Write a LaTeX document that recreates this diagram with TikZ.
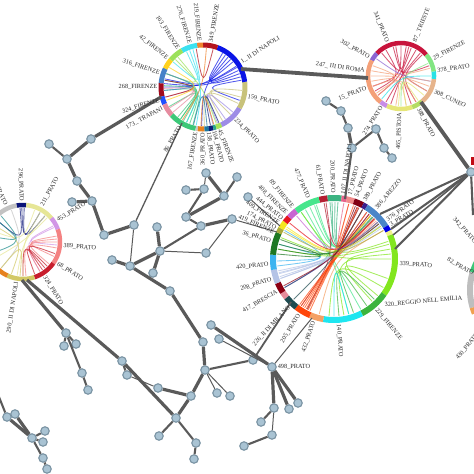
\documentclass[tikz,border=0pt]{standalone}
\usepackage{fontspec}
\setmainfont{Liberation Serif}
\definecolor{edgec}{HTML}{5A5A5A}
\definecolor{nfill}{HTML}{A9C3D3}
\definecolor{ndraw}{HTML}{7A93A3}
\definecolor{labc}{HTML}{2A2A2A}
\definecolor{tlblue}{HTML}{0A14E6}
\definecolor{tlkhaki}{HTML}{C8C27A}
\definecolor{tlpurple}{HTML}{9D8CE6}
\definecolor{tllgreen}{HTML}{A5E15A}
\definecolor{tlteal}{HTML}{2AA58C}
\definecolor{tlnavy}{HTML}{0B1E78}
\definecolor{tltealb}{HTML}{1E78A0}
\definecolor{tlorange}{HTML}{E8821E}
\definecolor{tlgrey}{HTML}{C8C8C8}
\definecolor{tlgreen}{HTML}{3CC878}
\definecolor{tlpink}{HTML}{E68CA0}
\definecolor{tlbluex}{HTML}{1E50FF}
\definecolor{tldred}{HTML}{A00A1E}
\definecolor{tlsteel}{HTML}{4682C8}
\definecolor{tldredb}{HTML}{B4141E}
\definecolor{tlorangeb}{HTML}{F0822D}
\definecolor{tlcyan}{HTML}{3CE1F0}
\definecolor{tllgreenb}{HTML}{9BE15A}
\definecolor{tlyellow}{HTML}{FFD21E}
\definecolor{trred}{HTML}{C8143C}
\definecolor{trpurple}{HTML}{8C64D2}
\definecolor{trsalmon}{HTML}{F4A078}
\definecolor{trlilac}{HTML}{C88CE6}
\definecolor{tryellow}{HTML}{E6E678}
\definecolor{trlgreen}{HTML}{B4DC64}
\definecolor{trtan}{HTML}{E6B48C}
\definecolor{trcyan}{HTML}{28E1E6}
\definecolor{trgreen}{HTML}{82E682}
\definecolor{ccdred}{HTML}{B41E32}
\definecolor{ccsea}{HTML}{3CB482}
\definecolor{ccpink}{HTML}{E6648C}
\definecolor{ccsalmon}{HTML}{F08C8C}
\definecolor{ccmaroon}{HTML}{820014}
\definecolor{ccindigo}{HTML}{3C1E8C}
\definecolor{ccsteel}{HTML}{4A86C8}
\definecolor{ccblue}{HTML}{0000E6}
\definecolor{cclyellow}{HTML}{F0F08C}
\definecolor{ccbgreen}{HTML}{82E61E}
\definecolor{ccgreen}{HTML}{3CB43C}
\definecolor{cccyan}{HTML}{1EE6F0}
\definecolor{ccsandy}{HTML}{F4A064}
\definecolor{ccorange}{HTML}{FF460A}
\definecolor{ccslate}{HTML}{1E4B50}
\definecolor{ccpinkb}{HTML}{E68C9B}
\definecolor{ccdredb}{HTML}{8C0014}
\definecolor{cclblue}{HTML}{B4C3E6}
\definecolor{ccsky}{HTML}{3CB4F0}
\definecolor{ccdkgreen}{HTML}{1E7823}
\definecolor{ccolive}{HTML}{AAAA3C}
\definecolor{ccyellow}{HTML}{F5E61E}
\definecolor{ccred}{HTML}{E6141E}
\definecolor{ccviolet}{HTML}{C864D2}
\definecolor{cclgreen}{HTML}{46E68C}
\definecolor{lcnavy}{HTML}{0A1478}
\definecolor{lcgrey}{HTML}{C3C3C3}
\definecolor{lckhaki}{HTML}{E6E696}
\definecolor{lclilac}{HTML}{D296E6}
\definecolor{lccoral}{HTML}{F48282}
\definecolor{lccrimson}{HTML}{C81E2D}
\definecolor{lcolive}{HTML}{D2C864}
\definecolor{lcorange}{HTML}{E6821E}
\definecolor{lcpurple}{HTML}{7864C8}
\definecolor{lcteal}{HTML}{1E8C8C}
\definecolor{rcgreen}{HTML}{3CC878}
\definecolor{rcgrey}{HTML}{BEBEBE}
\definecolor{rcorange}{HTML}{F0A050}
\definecolor{hubred}{HTML}{C00A14}
\tikzset{
  tn/.style={circle, minimum size=8.5pt, inner sep=0pt, fill=nfill, draw=ndraw, line width=1.1pt},
  ea/.style={draw=edgec, line width=3.2pt},
  eb/.style={draw=edgec, line width=2.1pt},
  ec/.style={draw=edgec, line width=1pt},
  lab/.style={font=\fontsize{6.3}{7}\selectfont, inner sep=0.6pt, text=labc},
  chord/.style={line width=0.85pt, opacity=0.7},
}
\begin{document}
\begin{tikzpicture}[x=1pt,y=-1pt]
\useasboundingbox (0,0) rectangle (474,474);
\clip (0,0) rectangle (474,474);

% ---------- chords ----------
% top-left circle (203,87) r 42
\foreach \a/\b/\c in {15/45/tlblue, 25/55/tlblue, 20/175/tlblue, 30/168/tlblue, 40/180/tlblue, 60/32/tlblue, 50/-92/tlblue, 10/-20/tlblue,
  -5/-60/tlkhaki, -15/-45/tlkhaki, -25/-88/tlkhaki, -40/-75/tlpurple, -55/-68/tlpurple,
  -105/-125/tlgreen, -110/170/tlgreen, -115/160/tlgreen, -120/178/tlgreen, -130/-150/tlgreen, -125/185/tlgreen,
  -140/-165/tlpink, -148/182/tlpink, 130/160/tllgreenb, 135/-70/tllgreenb,
  105/-115/tlcyan, 110/140/tlcyan, 115/-100/tlcyan, 85/-122/tlorangeb, 75/100/tldredb,
  170/195/tldred, 160/185/tlsteel, 150/200/tlyellow, -79/-66/tlnavy, -93/-74/tlorange, -84/-104/tltealb}
  \draw[chord, color=\c] ({203+39*cos(\a)},{87-39*sin(\a)}) .. controls (203,87) .. ({203+39*cos(\b)},{87-39*sin(\b)});
% top-right circle (401,76) r 33
\foreach \a/\b/\c in {60/-110/trred, 70/-140/trred, 80/-70/trred, 100/-30/trred, 120/-150/trred, 50/-120/trred, 90/200/trred, 105/75/trred, 130/20/trred, 45/-60/trred,
  180/-20/trsalmon, 200/-60/trsalmon, 170/15/trsalmon, 190/-100/trsalmon, 215/-80/trsalmon, 160/220/trsalmon,
  145/-10/trpurple, -80/-40/tryellow, -95/-55/tryellow, 25/-90/trgreen, 0/-130/trcyan, -30/-10/trtan}
  \draw[chord, color=\c] ({401+30*cos(\a)},{76-30*sin(\a)}) .. controls (401,76) .. ({401+30*cos(\b)},{76-30*sin(\b)});
% centre circle (334,259) r 61
\foreach \a/\b/\c in {110/45/cclgreen, 115/50/cclgreen, 120/-62/cclgreen, 125/-75/cclgreen, 108/38/cclgreen,
  86/35/ccsea, 89/48/ccsea, 92/-150/ccsea, 94/40/ccsea, 100/55/ccdred, 98/-125/ccdred,
  80/52/ccpink, 75/42/ccsalmon, 66/38/ccmaroon, 64/-118/ccmaroon, 68/45/ccmaroon, 60/-150/ccindigo,
  -160/40/cclblue, -162/45/cclblue, -165/50/cclblue, -168/36/cclblue, -160/33/cclblue, -166/55/cclblue,
  182/165/ccsky, 187/150/ccsky,
  -115/55/ccorange, -117/60/ccorange, -119/65/ccorange, -121/70/ccorange, -123/75/ccorange, -125/50/ccorange, -127/44/ccorange,
  -105/30/ccsandy, 10/-40/ccbgreen, 5/-80/ccbgreen, 15/170/ccbgreen, 0/158/ccbgreen, 18/125/ccbgreen, -20/-48/ccbgreen, -30/-95/ccbgreen,
  -45/-85/ccgreen, -55/-70/ccgreen, -75/-90/cccyan, 165/40/ccdkgreen, 170/47/ccdkgreen, 160/175/ccdkgreen,
  146/50/ccyellow, 148/35/ccyellow, 141/45/ccred, 131/40/ccviolet, 152/30/ccolive, -135/60/ccslate, -152/52/ccdredb}
  \draw[chord, color=\c] ({334+57*cos(\a)},{259-57*sin(\a)}) .. controls (334,259) .. ({334+57*cos(\b)},{259-57*sin(\b)});
% left circle (23,242) r 37
\foreach \a/\b/\c in {92/50/lcnavy, 95/140/lcnavy, 88/60/lcnavy, 110/-130/lcgrey, 60/-90/lckhaki, 45/-150/lckhaki, 50/-100/lckhaki, 70/160/lckhaki,
  28/-5/lclilac, 25/-60/lclilac, 5/-40/lccoral, 0/-60/lccoral, -10/-85/lccoral, 10/-25/lccoral,
  -50/-90/lccrimson, -55/-20/lccrimson, -45/-70/lccrimson, -95/-130/lcolive, -110/150/lcolive, 140/170/lcteal, 130/200/lcteal}
  \draw[chord, color=\c] ({23+34*cos(\a)},{242-34*sin(\a)}) .. controls (23,242) .. ({23+34*cos(\b)},{242-34*sin(\b)});

% ---------- rings ----------
\foreach \a/\b/\c in {154/175/tlsteel, 175/193/tldred, 193/204/tlbluex, 204/222/tlpink, 222/260/tlgreen, 260/263/tlgrey, 263/272/tlorange, 272/278/tltealb, 278/284/tlnavy, 284/288/tlteal, 288/296/tllgreen, 296/330/tlpurple, 330/367/tlkhaki, 7/70/tlblue, 70/90/tldredb, 90/98/tlorangeb, 98/120/tlcyan, 120/140/tllgreenb, 140/154/tlyellow}
  \draw[color=\c, line width=5pt] plot[domain=\a:\b, samples=14, variable=\t] ({203+42*cos(\t)},{87-42*sin(\t)});
\foreach \a/\b/\c in {40/137/trred, 137/152/trpurple, 152/232/trsalmon, 232/245/trlilac, 245/290/tryellow, 290/310/trlgreen, 310/355/trtan, 355/368/trcyan, 8/40/trgreen}
  \draw[color=\c, line width=4.5pt] plot[domain=\a:\b, samples=14, variable=\t] ({401+33*cos(\t)},{76-33*sin(\t)});
\foreach \a/\b/\c in {96/104/ccdred, 83/96/ccsea, 78/83/ccpink, 71/78/ccsalmon, 62/71/ccmaroon, 58/62/ccindigo, 32/58/ccsteel, 27/32/ccblue, 23/27/cclyellow, -35/23/ccbgreen, -63/-35/ccgreen, -100/-63/cccyan, -113/-100/ccsandy, -128/-113/ccorange, -141/-128/ccslate, -147/-141/ccpinkb, -157/-147/ccdredb, -170/-157/cclblue, 176/190/ccsky, 155/176/ccdkgreen, 150/155/ccolive, 143/150/ccyellow, 137/143/ccred, 128/137/ccviolet, 104/128/cclgreen}
  \draw[color=\c, line width=6pt] plot[domain=\a:\b, samples=14, variable=\t] ({334+61*cos(\t)},{259-61*sin(\t)});
\foreach \a/\b/\c in {85/100/lcnavy, 100/150/lcgrey, 150/175/lcteal, 40/85/lckhaki, 20/40/lclilac, -35/20/lccoral, -72/-35/lccrimson, -115/-72/lcolive, -135/-115/lcorange, -150/-135/lcpurple}
  \draw[color=\c, line width=4.5pt] plot[domain=\a:\b, samples=14, variable=\t] ({23+37*cos(\t)},{242-37*sin(\t)});
\foreach \a/\b/\c in {150/163/rcgreen, 163/197/rcgrey, 197/203/rcorange}
  \draw[color=\c, line width=6pt] plot[domain=\a:\b, samples=14, variable=\t] ({530+60*cos(\t)},{290-60*sin(\t)});
\fill[hubred] (470.5,157) rectangle (475,165);

% ---------- nodes ----------
\foreach \n/\u/\v in {a1/67/159, a2/77/181, a3/72/202, a4/92/201, a5/104/235, a6/134/225, a7/112/260, a8/130/266, a9/157/227, a10/160/251,
  a11/153/273, a12/170/291, a13/203/342, a14/205/370, a15/191/396, a16/217/393, a17/230/396, a18/253/360, a19/211/325, a20/219/339,
  a21/272/367, a22/158/388, a23/176/418, a24/159/436, a25/196/443, a26/194/459, a27/122/361, a28/127/375, a29/66/333, a30/64/346,
  a31/76/344, a32/82/373, a33/88/390, a34/7/417, a35/15/414, a36/32/438, a37/45/431, a38/43/442, a39/43/458, a40/47/469,
  a41/274/408, a42/289/409, a43/298/403, a44/261/422, a45/272/435, a46/244/446,
  b1/206/173, b2/237/177, b3/186/190, b4/204/189, b5/224/196, b6/186/217, b7/201/226, b8/232/219, b9/248/197, b10/206/253,
  c1/326/101, c2/341/111, c3/348/128, c4/352/148, c5/376/129, c6/384/148, c7/392/158, d1/49/144, d2/91/139, hub/471/172}
  \node[tn] (\n) at (\u,\v) {};

% ring end points
\coordinate (tlA) at (161,97);
\coordinate (tlB) at (182,123);
\coordinate (tlR) at (241,69);
\coordinate (trL) at (368,78);
\coordinate (trB) at (421,102);
\coordinate (cT) at (345,199);
\coordinate (cL1) at (277,232);
\coordinate (cL2) at (280,226);
\coordinate (cB1) at (291,302);
\coordinate (cB2) at (312,318);
\coordinate (cR1) at (380,214);
\coordinate (cR2) at (391,229);
\coordinate (cR3) at (393,235);
\coordinate (cR4) at (395,249);
\coordinate (hubD) at (473,215);
\coordinate (lft) at (-3,392);
\coordinate (lcB1) at (22,280);
\coordinate (lcB2) at (27,280);

% ---------- edges ----------
\foreach \s/\e in {d2/a1, a1/a2, a2/a4, a3/a4, a4/a5, a5/a6, a7/a8, a8/a10, a9/a10, a10/a11, a8/a12, a12/a13, a13/a14, a14/a15,
  a15/a22, a15/a23, a27/a23, a34/a36, a35/a36, a21/a41, a21/a42, a21/a43, a19/a21, b1/b5, b5/b6, b7/b8, c3/c4}
  \draw[ea] (\s) -- (\e);
\foreach \s/\e in {d1/a1, b2/b5, b6/b7, b7/a10, b3/b4, b4/b6, a14/a18, a23/a24, a23/a25, a25/a26, a29/a30, a29/a31, a29/a32, a32/a33,
  a36/a37, a36/a38, a36/a39, a39/a40, a41/a44, a45/a46, c1/c2, c2/c3, c4/c5, c5/c6, c6/c7, a27/a28}
  \draw[eb] (\s) -- (\e);
\foreach \s/\e in {b1/b4, b8/b10, a10/b10, a6/a8, a14/a16, a14/a17, a28/a22, a20/a21, a41/a45}
  \draw[ec] (\s) -- (\e);
\draw[ea] (tlA) -- (d2);
\draw[ec, line width=1.3pt] (tlB) -- (a6);
\draw[ea, line width=3.8pt] (tlR) -- (trL);
\draw[ea, line width=3.8pt] (trB) -- (hub);
\draw[eb] (hub) -- (cR1);
\draw[eb] (hub) -- (cR2);
\draw[ec, line width=1.5pt] (hub) -- (cR3);
\draw[eb] (hub) -- (cR4);
\draw[eb] (hub) -- (hubD);
\draw[eb] (c4) -- (cT);
\draw[ec] (b8) -- (cL1);
\draw[ec] (b9) -- (cL2);
\draw[eb, line width=1.8pt] (a18) -- (cB1);
\draw[ec] (a21) -- (cB2);
\draw[eb] (lft) -- (a34);
\draw[ea] (lcB1) -- (a29);
\draw[ea] (lcB2) -- (a27);

% ---------- labels ----------
\foreach \a/\t [count=\i] in {33/1\_ II DI NAPOLI, -12/159\_PRATO, -45/234\_PRATO, -69/45\_FIRENZE, -76/104\_PRATO, -83/138\_PRATO, 80/349\_FIRENZE}
  \node[lab, anchor=west, rotate=\a] (tlr\i) at ({203+45*cos(\a)},{87-45*sin(\a)}) {\t};
\foreach \a/\t [count=\i] in {-90/360\_PRATO, -99/167\_FIRENZE, -120/86\_PRATO, -152/173\_ TRAPANI, -163/324\_FIRENZE, 180/268\_FIRENZE, 162/316\_FIRENZE, 141/42\_FIRENZE, 123/163\_FIRENZE, 107/276\_FIRENZE, 95/219\_FIRENZE}
  \node[lab, anchor=east, rotate=\a-180] (tll\i) at ({203+45*cos(\a)},{87-45*sin(\a)}) {\t};
\foreach \a/\t [count=\i] in {68/87\_ TRIESTE, 28/29\_FIRENZE, 8/378\_PRATO, -25/308\_CUNEO, -62/388\_PRATO}
  \node[lab, anchor=west, rotate=\a] (trr\i) at ({401+36*cos(\a)},{76-36*sin(\a)}) {\t};
\foreach \a/\t [count=\i] in {-92/465\_PISTOIA, -122/274\_PRATO, -160/15\_PRATO, 172/247\_ III DI ROMA, 150/302\_PRATO, 112/341\_PRATO}
  \node[lab, anchor=east, rotate=\a-180] (trl\i) at ({401+36*cos(\a)},{76-36*sin(\a)}) {\t};
\foreach \a/\t [count=\i] in {82/107\_II DI NAPOLI, 76/17\_PRATO, 70/54\_PRATO, 62/389\_PRATO, 50/386\_AREZZO, 36/376\_PRATO, 31/3\_PRATO, -4/339\_PRATO, -50/229\_FIRENZE, -86/140\_PRATO}
  \node[lab, anchor=west, rotate=\a] (ccr\i) at ({334+65*cos(\a)},{259-65*sin(\a)}) {\t};
\foreach \a/\t [count=\i] in {-108/432\_PRATO, -122/205\_PRATO, -133/226\_II DI MILANO, -150/417\_BRESCIA, -162/208\_PRATO, -175/420\_PRATO, 164/36\_PRATO, 156/419\_FIRENZE, 152/174\_PRATO, 147/409\_FIRENZE, 142/444\_PRATO, 136/408\_FIRENZE, 129/89\_FIRENZE, 113/477\_PRATO, 100/61\_PRATO, 91/200\_PRATO}
  \node[lab, anchor=east, rotate=\a-180] (ccl\i) at ({334+65*cos(\a)},{259-65*sin(\a)}) {\t};
\node[lab, anchor=west, rotate=5] (ccreggio) at (384,305) {320\_REGGIO NELL EMILIA};
\foreach \a/\t [count=\i] in {62/211\_PRATO, 32/453\_PRATO, -5/389\_PRATO, -32/68\_PRATO, -58/324\_PRATO}
  \node[lab, anchor=west, rotate=\a] (lcr\i) at ({23+40*cos(\a)},{242-40*sin(\a)}) {\t};
\foreach \a/\t [count=\i] in {92/296\_PRATO, 115/185\_PRATO, -99/290\_ II DI NAPOLI}
  \node[lab, anchor=east, rotate=\a-180] (lcl\i) at ({23+40*cos(\a)},{242-40*sin(\a)}) {\t};
\node[lab, anchor=east, rotate=-48] (rc1) at (476,243) {342\_PRATO};
\node[lab, anchor=east, rotate=-29] (rc2) at (474,274) {82\_PRATO};
\node[lab, anchor=east, rotate=51] (rc3) at (478,333) {430\_PRATO};
\node[lab, anchor=east, rotate=-55] (rc4) at (494,243) {7\_PRATO};
\node[lab, anchor=west] (l498) at (277,367) {498\_PRATO};
\end{tikzpicture}
\end{document}
